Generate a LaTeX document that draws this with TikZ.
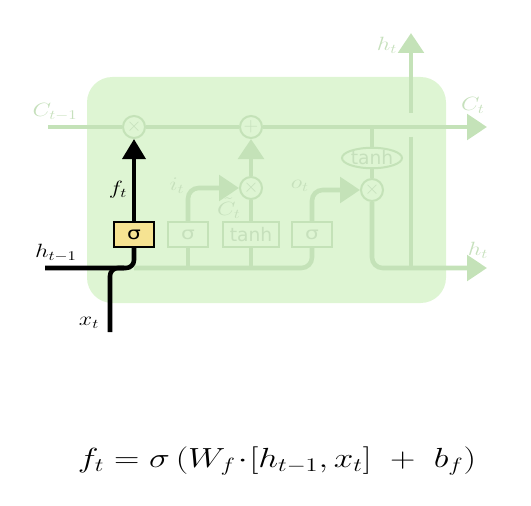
\documentclass[tikz,border=0pt]{standalone}
\usepackage{fontspec}
\newfontfamily\gatefont{DejaVu Sans}
\usetikzlibrary{arrows.meta,shapes.geometric,positioning}

\definecolor{LSTMBox}{RGB}{222,245,211}
\definecolor{LSTMFade}{RGB}{196,226,184}
\definecolor{LSTMText}{RGB}{198,224,188}
\definecolor{LSTMGate}{RGB}{246,227,146}

% the labels of the reference are set wide
\newcommand{\widetxt}[1]{\scalebox{1.25}[1]{#1}}

\begin{document}
\begin{tikzpicture}[x=0.75pt,y=-0.75pt,font=\fontsize{14.4}{17}\selectfont,
  fadeline/.style={LSTMFade,line width=3.4pt},
  boldline/.style={black,line width=3.4pt},
  fadetip/.style={-{Triangle[length=15pt,width=19pt]}},
  boldtip/.style={-{Triangle[length=15pt,width=17pt]}},
  gatebox/.style={draw=LSTMFade,fill=LSTMBox,line width=1.5pt,minimum width=30pt,
    minimum height=18.5pt,inner sep=0pt,text=LSTMText,font=\fontsize{13}{15}\gatefont},
  opcircle/.style={circle,draw=LSTMFade,fill=LSTMBox,line width=1.5pt,minimum size=16.5pt,
    inner sep=0pt,text=LSTMText},
  fadelabel/.style={text=LSTMText,inner sep=0pt},
  boldlabel/.style={text=black,inner sep=0pt}]
  \useasboundingbox (0,0) rectangle (531,506);

  % cell background
  \fill[LSTMBox,rounded corners=19pt] (87,77) rectangle (446,303);

  % gates and pointwise operations
  \node[gatebox,draw=black,fill=LSTMGate,text=black] (fgate) at (134,234.5) {\widetxt{σ}};
  \node[gatebox] (igate) at (188,234.5) {\widetxt{σ}};
  \node[gatebox,minimum width=42pt,font=\fontsize{14}{16}\gatefont] (cgate) at (251,234.5) {tanh};
  \node[gatebox] (ogate) at (312,234.5) {\widetxt{σ}};
  \node[opcircle] (fmul) at (134,127) {$\times$};
  \node[opcircle] (addop) at (251,127) {$+$};
  \node[opcircle] (imul) at (251,188) {$\times$};
  \node[opcircle] (omul) at (372,190) {$\times$};
  \node[gatebox,ellipse,minimum width=40pt,minimum height=13pt,font=\fontsize{14}{16}\gatefont]
    (otanh) at (372,158) {tanh};

  \coordinate (cin) at (48,127);
  \coordinate (cout) at (487,127);
  \coordinate (cbranch) at (372,127);
  \coordinate (hup) at (411,113);
  \coordinate (htop) at (411,33);
  \coordinate (hmid) at (411,137);
  \coordinate (hjoin) at (411,268);
  \coordinate (hout) at (487,268);
  \coordinate (hfork) at (134,268);
  \coordinate (hin) at (45,268);
  \coordinate (xin) at (110,332);
  \coordinate (xjoin) at (124,268);

  % faded connectors
  \draw[fadeline,fadetip] (cin) -- (fmul) -- (addop) -- (cout);
  \draw[fadeline] (cbranch) -- (otanh) -- (omul);
  \draw[fadeline,fadetip] (hup) -- (htop);
  \draw[fadeline] (hmid) -- (hjoin);
  \draw[fadeline,fadetip,rounded corners=8pt] (omul) |- (hout);
  \draw[fadeline,rounded corners=8pt] (hfork) -| (ogate);
  \draw[fadeline] (igate |- hfork) -- (igate);
  \draw[fadeline] (cgate |- hfork) -- (cgate);
  \draw[fadeline,fadetip,rounded corners=8pt] (igate) |- (imul);
  \draw[fadeline,fadetip,rounded corners=8pt] (ogate) |- (omul);
  \draw[fadeline] (cgate) -- (imul);
  \draw[fadeline,fadetip] (imul) -- (addop);

  % forget gate path
  \draw[boldline,rounded corners=6pt] (hin) -| (fgate);
  \draw[boldline,rounded corners=6pt] (xin) |- (xjoin);
  \draw[boldline,boldtip] (fgate) -- (fmul);

  % labels
  \node[fadelabel] (lcprev) at (55,112) {\widetxt{$C_{t-1}$}};
  \node[fadelabel] (lcnext) at (473,105) {\widetxt{$C_t$}};
  \node[fadelabel] (lhtop) at (387,45) {\widetxt{$h_t$}};
  \node[fadelabel] (lhout) at (478,250) {\widetxt{$h_t$}};
  \node[fadelabel] (lit) at (177,186) {\widetxt{$i_t$}};
  \node[fadelabel] (lct) at (229,208) {\widetxt{$\tilde{C}_t$}};
  \node[fadelabel] (lot) at (300,186) {\widetxt{$o_t$}};
  \node[boldlabel] (lft) at (118,190) {\widetxt{$f_t$}};
  \node[boldlabel] (lhprev) at (56,253) {\widetxt{$h_{t-1}$}};
  \node[boldlabel] (lxt) at (89,323) {\widetxt{$x_t$}};

  % equation
  \node[boldlabel,font=\fontsize{20.74}{25}\selectfont] (eqn) at (277,461)
    {\scalebox{1.27}[1]{$f_t = \sigma\,(W_f\!\cdot\![h_{t-1},x_t] \ + \ b_f)$}};
\end{tikzpicture}
\end{document}
